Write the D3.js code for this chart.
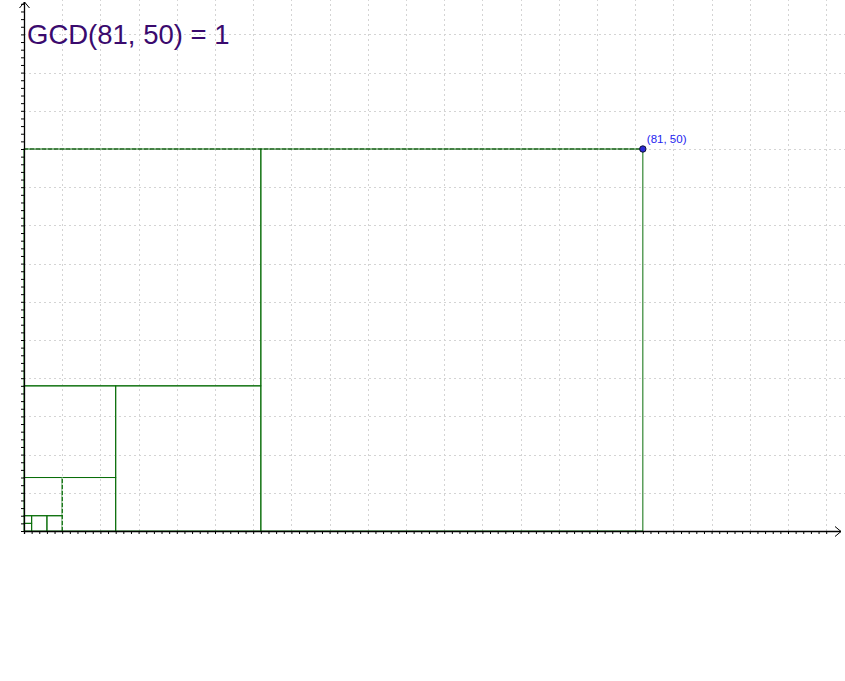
<!DOCTYPE html>
<html>
<head>
<meta charset="utf-8">
<script src="https://cdn.jsdelivr.net/npm/d3@7"></script>
<style>
html,body{margin:0;padding:0;background:#fff;}
svg{display:block;}
</style>
</head>
<body>
<svg id="chart" width="845" height="681"></svg>
<script>
// ---- data (chart units) ----
const rectA = 81, rectB = 50;
const gcdValue = 1;
// Euclid squares: [x0, y0, side]
const squareX = [31, 0, 12, 0, 5, 0, 3, 1, 0, 0];
const squareY = [0, 19, 0, 7, 0, 2, 0, 0, 1, 0];
const squareSide = [50, 31, 19, 12, 7, 5, 2, 2, 1, 1];
const xTicks = d3.range(0, 106, 1);
const yTicks = d3.range(0, 70, 1);
const xGrid = d3.range(5, 106, 5);
const yGrid = d3.range(5, 70, 5);
const title = `GCD(${rectA}, ${rectB}) = ${gcdValue}`;
const pointLabel = `(${rectA}, ${rectB})`;

// ---- layout ----
const svg = d3.select("#chart");
const unit = 7.64;
const ox = 24, oy = 531;
const x = d3.scaleLinear().domain([0, 107]).range([ox, ox + 107 * unit]);
const y = d3.scaleLinear().domain([0, 69.5]).range([oy, oy - 69.5 * unit]);
const green = "#0a6e0a";

// grid
const grid = svg.append("g").attr("stroke", "#d4d4d4").attr("stroke-width", 1).attr("stroke-dasharray", "2,3");
grid.selectAll("line.v").data(xGrid).join("line").attr("class","v")
  .attr("x1", d => Math.round(x(d)) + 0.5).attr("x2", d => Math.round(x(d)) + 0.5)
  .attr("y1", oy).attr("y2", 0);
grid.selectAll("line.h").data(yGrid).join("line").attr("class","h")
  .attr("y1", d => Math.round(y(d)) + 0.5).attr("y2", d => Math.round(y(d)) + 0.5)
  .attr("x1", ox).attr("x2", 845);

// squares
const sq = svg.append("g").attr("fill", "none").attr("stroke", green).attr("stroke-width", 1);
squareSide.forEach((s, i) => {
  const x0 = squareX[i], y0 = squareY[i];
  sq.append("rect")
    .attr("x", x(x0) ).attr("y", y(y0 + s))
    .attr("width", x(x0 + s) - x(x0)).attr("height", y(y0) - y(y0 + s));
});
// dashed overlays
sq.append("line").attr("x1", x(0)).attr("x2", x(rectA)).attr("y1", y(rectB)).attr("y2", y(rectB))
  .attr("stroke", "#0b4f0b").attr("stroke-dasharray", "4,2");
sq.append("line").attr("x1", x(5)).attr("x2", x(5)).attr("y1", y(0)).attr("y2", y(7))
  .attr("stroke", "#ffffff").attr("stroke-dasharray", "0,4,2,0");

// axes
const xAxis = d3.axisBottom(x).tickValues(xTicks).tickSize(3).tickSizeOuter(0).tickFormat("");
const gx = svg.append("g").attr("transform", `translate(0,${oy})`).call(xAxis);
gx.select(".domain").remove();
gx.selectAll(".tick line").attr("stroke", "#000");
svg.append("line").attr("x1", ox).attr("x2", 841).attr("y1", oy + 0.5).attr("y2", oy + 0.5)
  .attr("stroke", "#000").attr("stroke-width", 1.3);
svg.append("path").attr("d", `M835,${oy - 4.5} L841,${oy + 0.5} L835,${oy + 5.5}`)
  .attr("fill", "none").attr("stroke", "#000").attr("stroke-width", 1);

const yAxis = d3.axisLeft(y).tickValues(yTicks).tickSize(3).tickSizeOuter(0).tickFormat("");
const gy = svg.append("g").attr("transform", `translate(${ox},0)`).call(yAxis);
gy.select(".domain").remove();
gy.selectAll(".tick line").attr("stroke", "#000");
svg.append("line").attr("x1", ox + 0.5).attr("x2", ox + 0.5).attr("y1", oy + 3).attr("y2", 2)
  .attr("stroke", "#000").attr("stroke-width", 1.3);
svg.append("path").attr("d", `M${ox - 4.5},8 L${ox + 0.5},2 L${ox + 5.5},8`)
  .attr("fill", "none").attr("stroke", "#000").attr("stroke-width", 1);

// point
svg.append("circle").attr("cx", x(rectA)).attr("cy", y(rectB)).attr("r", 3.2)
  .attr("fill", "#2b2bd6").attr("stroke", "#111133").attr("stroke-width", 1);
svg.append("text").attr("x", x(rectA) + 4).attr("y", y(rectB) - 6)
  .attr("font-family", "Liberation Sans, Arial, sans-serif").attr("font-size", 11.5)
  .attr("fill", "#2424f0").text(pointLabel);

// title
svg.append("text").attr("x", 27).attr("y", 44)
  .attr("font-family", "Liberation Sans, Arial, sans-serif").attr("font-size", 27.5)
  .attr("fill", "#3a0a6e").text(title);
</script>
</body>
</html>
